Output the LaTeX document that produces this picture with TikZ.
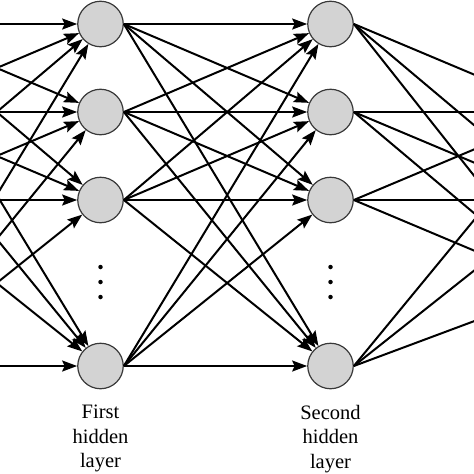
\documentclass[tikz,border=0pt]{standalone}
\usepackage{fontspec}
\setmainfont{Liberation Serif}
\usetikzlibrary{arrows.meta}
\definecolor{nodefill}{HTML}{D3D3D3}
\definecolor{nodeline}{HTML}{383838}
\begin{document}
\begin{tikzpicture}[x=1pt,y=-1pt,
  neuron/.style={circle, draw=nodeline, fill=nodefill, line width=1.2pt, minimum size=45.5pt, inner sep=0pt},
  link/.style={line width=2pt, black},
  arr/.style={link, -{Stealth[length=15pt,width=11pt,inset=2.5pt]}},
  lbl/.style={align=center, font=\fontsize{20.5}{24.5}\selectfont, inner sep=0pt, anchor=north},
  vdot/.style={circle, fill=black, inner sep=0pt, minimum size=4.5pt}]
\useasboundingbox (0,0) rectangle (474,474);
\clip (0,0) rectangle (474,474);
\foreach \i/\y in {1/24,2/112,3/200,4/366} {
  \coordinate (in\i) at (-107,\y);
  \node[neuron] (a\i) at (100.5,\y) {};
  \node[neuron] (b\i) at (330.5,\y) {};
}
\foreach \j/\y in {1/112,2/200,3/288} \coordinate (out\j) at (563,\y);
\foreach \i in {1,...,4} \foreach \k in {1,...,4} \draw[arr] (in\i) -- (a\k);
\foreach \i in {1,...,4} \foreach \k in {1,...,4} \draw[arr] (a\i.east) -- (b\k);
\foreach \i in {1,...,4} \foreach \j in {1,2,3} \draw[arr] (b\i.east) -- (out\j);
\foreach \x/\n in {100.5/a,330.5/b} \foreach \y/\m in {267/1,282/2,297/3} \node[vdot] (d\n\m) at (\x,\y) {};
\node[lbl] (la) at (100.5,405) {First\\hidden\\layer};
\node[lbl] (lb) at (330.5,405) {Second\\hidden\\layer};
\end{tikzpicture}
\end{document}
